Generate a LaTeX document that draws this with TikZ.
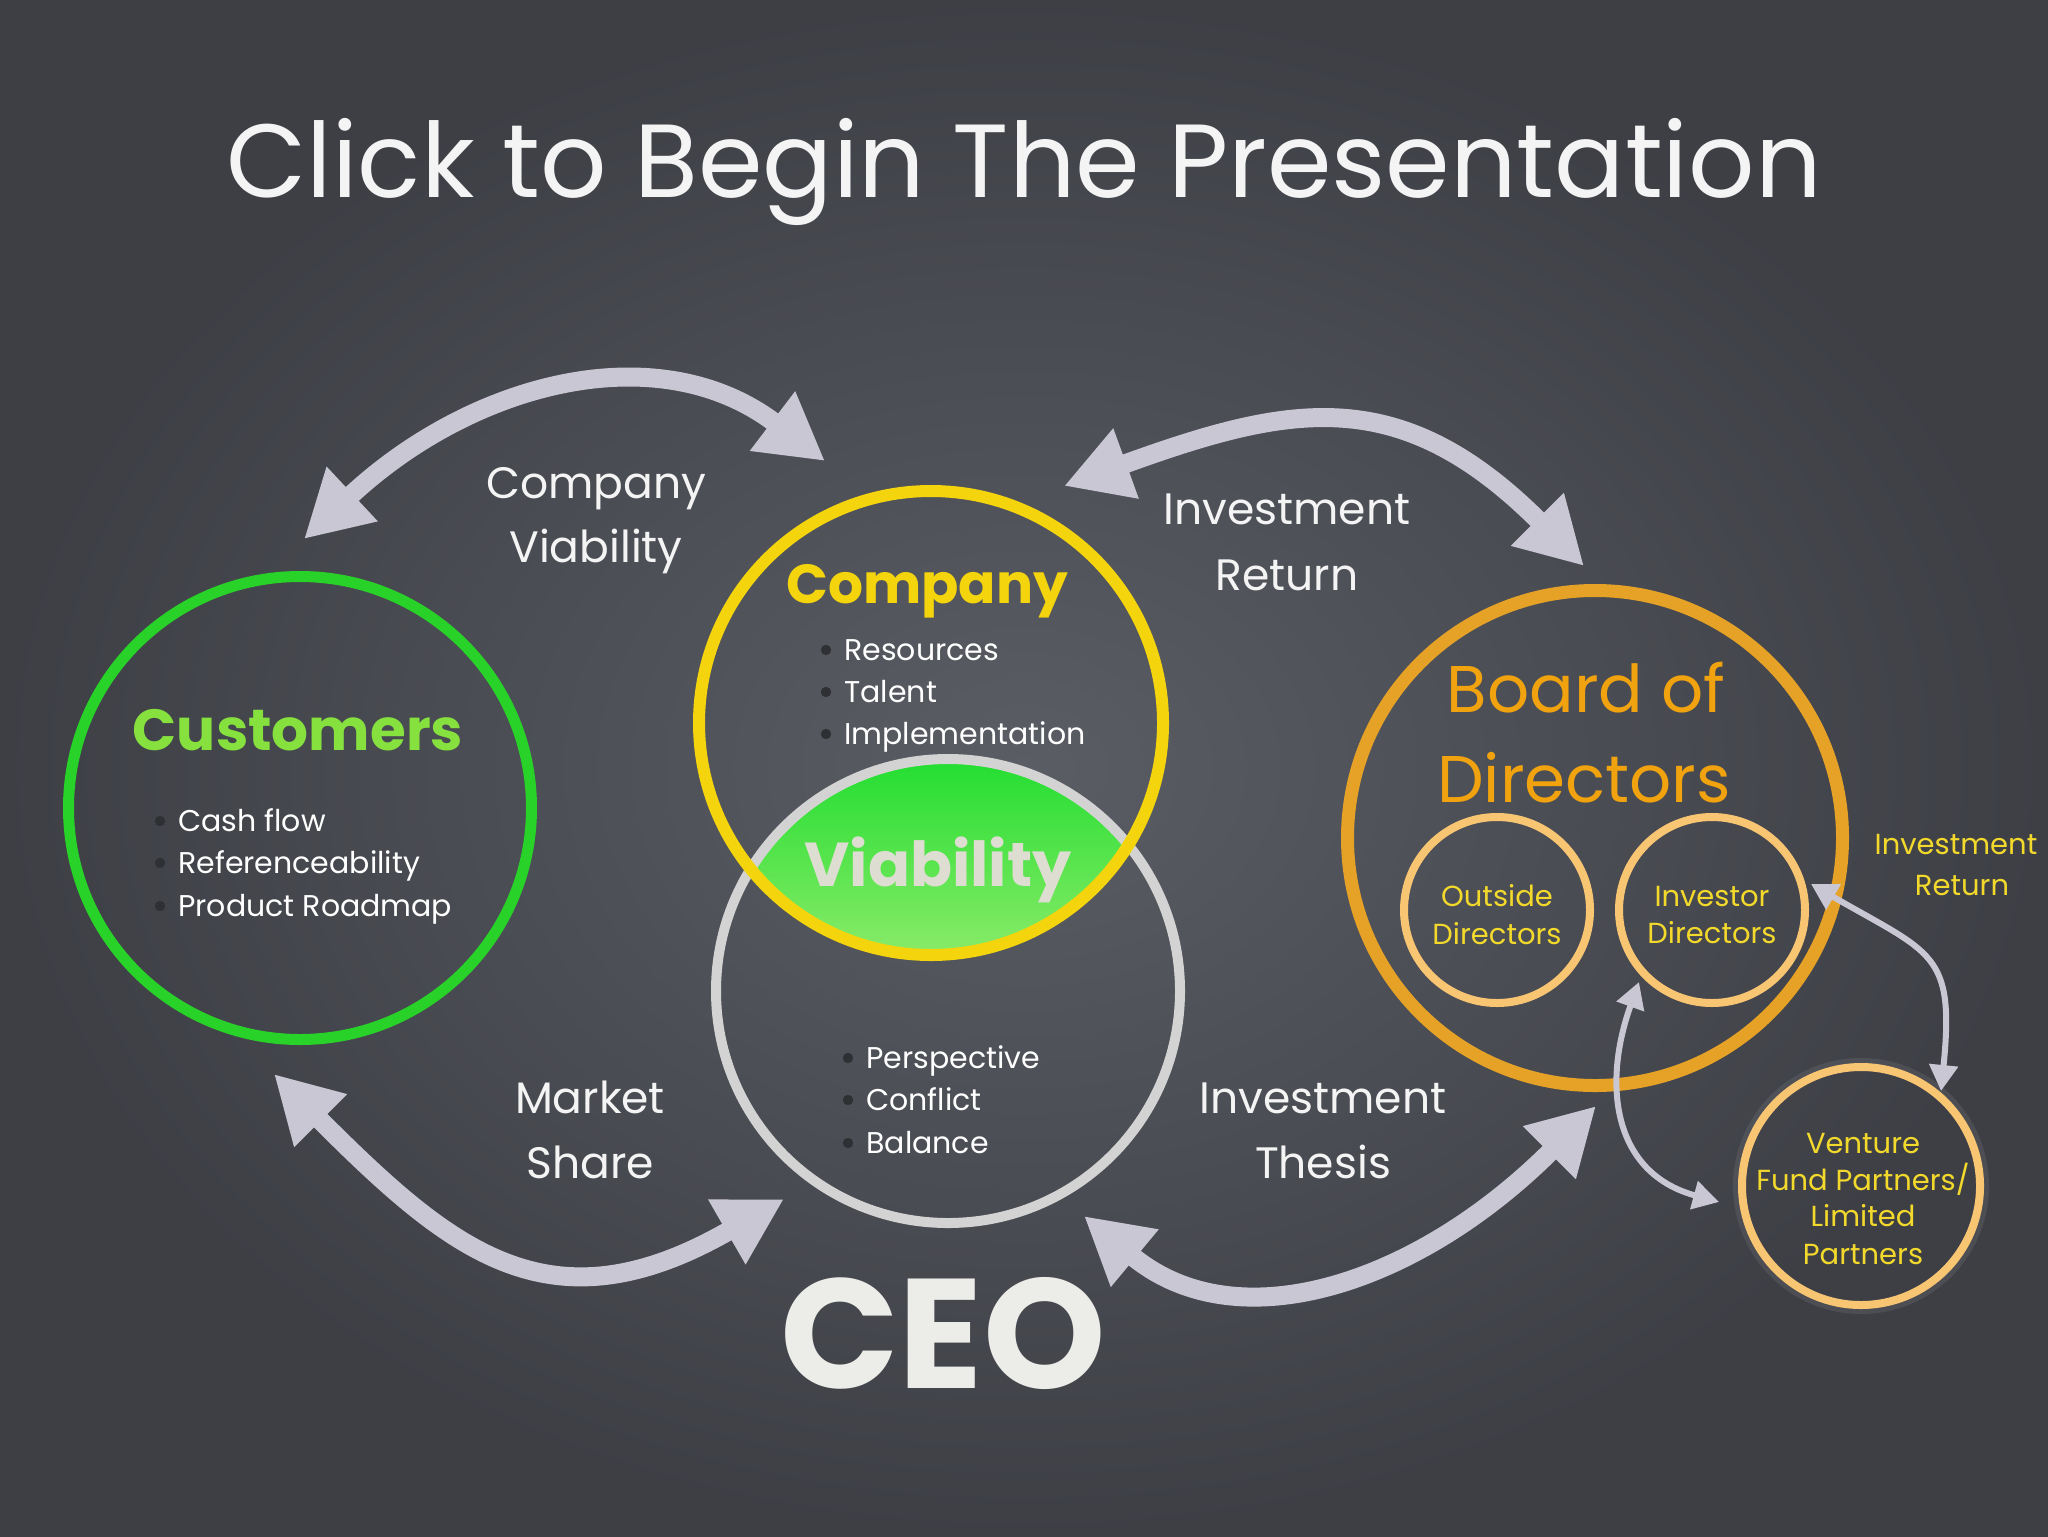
\documentclass[tikz,border=0pt]{standalone}
\usepackage{fontspec}
\setmainfont{Poppins}
\usetikzlibrary{arrows.meta}
\definecolor{bgA}{HTML}{5A5D64}
\definecolor{bgB}{HTML}{3D3F45}
\definecolor{custgreen}{HTML}{28D228}
\definecolor{custtext}{HTML}{86E13F}
\definecolor{compyellow}{HTML}{F4D40C}
\definecolor{ceogray}{HTML}{D3D3D3}
\definecolor{boardorange}{HTML}{E6A227}
\definecolor{boardtext}{HTML}{F0A20F}
\definecolor{subring}{HTML}{F8C572}
\definecolor{subtext}{HTML}{F2D92C}
\definecolor{arrowgray}{HTML}{CAC7D5}
\definecolor{lenstop}{HTML}{1EDD2E}
\definecolor{lensbot}{HTML}{8CEB6A}
\definecolor{viatext}{HTML}{DEDDD2}
\definecolor{dotgray}{HTML}{2F3034}
\definecolor{labelwhite}{HTML}{F4F4F4}
\definecolor{ceowhite}{HTML}{ECECE8}
\newcommand{\fs}[2]{\fontsize{#1pt}{#2pt}\selectfont}
\begin{document}
\begin{tikzpicture}[x=0.5pt,y=-0.5pt,
  ring/.style={circle, inner sep=0pt, outer sep=0pt},
  bigarrow/.style={draw=arrowgray, line width=9.5pt,
    {Triangle[length=33pt,width=35pt]}-{Triangle[length=33pt,width=35pt]}},
  thinarrow/.style={draw=arrowgray, line width=3pt,
    {Triangle[length=13pt,width=14pt]}-{Triangle[length=13pt,width=14pt]}},
  lbl/.style={text=labelwhite, anchor=base, inner sep=1pt, font=\fs{22}{28}},
  bl/.style={text=white, anchor=base west, inner sep=0pt, font=\fs{15}{20}},
  dot/.style={fill=dotgray},
  sub/.style={text=subtext, anchor=base, inner sep=0pt, font=\fs{14.5}{18}},
  bigtitle/.style={anchor=base, inner sep=1pt, font=\bfseries\fs{29}{36}}]
\useasboundingbox (0,0) rectangle (2048,1536);
\shade[inner color=bgA, outer color=bgB] (0,0) rectangle (2048,1536);

% centres
\coordinate (compc) at (931,723);
\coordinate (ceoc) at (948,991);

% green lens (Company and CEO overlap)
\begin{scope}
  \clip (compc) circle[radius=116pt];
  \clip (ceoc) circle[radius=116pt];
  \shade[top color=lenstop, bottom color=lensbot] (700,750) rectangle (1200,960);
\end{scope}

% circles
\node[ring, draw=custgreen, line width=5.5pt, minimum size=231.5pt] (cust) at (300,808) {};
\node[ring, draw=ceogray, line width=5pt, minimum size=232pt] (ceo) at (ceoc) {};
\node[ring, draw=compyellow, line width=6pt, minimum size=232pt] (comp) at (compc) {};
\node[ring, draw=boardorange, line width=6.5pt, minimum size=247.5pt] (board) at (1595,838) {};
\node[ring, draw=subring, line width=4pt, minimum size=93pt] (outside) at (1497,910) {};
\node[ring, draw=subring, line width=4pt, minimum size=93pt] (investor) at (1712,910) {};
\draw[white, line width=5pt, opacity=0.08] (1861,1186) circle[radius=61.5pt];
\node[ring, draw=subring, line width=4pt, minimum size=119pt] (venture) at (1861,1186) {};

% arrow end points
\coordinate (a1l) at (304,539);  \coordinate (a1r) at (825,461);
\coordinate (a2l) at (1064,486); \coordinate (a2r) at (1584,566);
\coordinate (a3l) at (274,1074); \coordinate (a3r) at (784,1199);
\coordinate (a4l) at (1084,1216);\coordinate (a4r) at (1596,1106);
\coordinate (a5t) at (1639,982); \coordinate (a5b) at (1719,1202);
\coordinate (a6t) at (1811,884); \coordinate (a6b) at (1941,1091);

\draw[bigarrow] (a1l) .. controls +(168,-157) and +(-167,-127) .. (a1r);
\draw[bigarrow] (a2l) .. controls +(226,-82) and +(-184,-184) .. (a2r);
\draw[bigarrow] (a3l) .. controls +(177,177) and +(-234,135) .. (a3r);
\draw[bigarrow] (a4l) .. controls +(154,128) and +(-177,177) .. (a4r);
\draw[thinarrow] (a5t) .. controls +(-37,103) and +(-106,-29) .. (a5b);
\draw[thinarrow] (a6t) .. controls +(121,70) and +(14,-139) .. (a6b);

% title
\node[anchor=base, text=labelwhite, font=\fs{52}{60}] (title) at (1024,197) {Click to Begin The Presentation};

% arrow labels
\node[lbl] (cv1) at (596,498) {Company};
\node[lbl] (cv2) at (596,562) {Viability};
\node[lbl] (ir1) at (1287,524) {Investment};
\node[lbl] (ir2) at (1287,590) {Return};
\node[lbl] (ms1) at (590,1113) {Market};
\node[lbl] (ms2) at (590,1178) {Share};
\node[lbl] (it1) at (1323,1113) {Investment};
\node[lbl] (it2) at (1323,1178) {Thesis};

% Customers
\node[bigtitle, text=custtext] (custT) at (298,750) {Customers};
\node[bl] (cb1) at (178,831) {Cash flow};
\node[bl] (cb2) at (178,873) {Referenceability};
\node[bl] (cb3) at (178,916) {Product Roadmap};

% Company
\node[bigtitle, text=compyellow, font=\bfseries\fs{27.5}{36}] (compT) at (927,603) {Company};
\node[bl] (pb1) at (844,660) {Resources};
\node[bl] (pb2) at (844,702) {Talent};
\node[bl] (pb3) at (844,744) {Implementation};

% Viability / CEO
\node[bigtitle, text=viatext, font=\bfseries\fs{31}{40}] (viaT) at (938,886) {Viability};
\node[bl] (eb1) at (866,1068) {Perspective};
\node[bl] (eb2) at (866,1110) {Conflict};
\node[bl] (eb3) at (866,1153) {Balance};
\node[bigtitle, text=ceowhite, font=\bfseries\fs{78}{84}] (ceoT) at (943,1388) {CEO};

% bullet dots
\foreach \n in {cb1,cb2,cb3,pb1,pb2,pb3,eb1,eb2,eb3}
  \fill[dot] (\n.base west) ++(-18,-10) circle[radius=2.6pt];

% Board
\node[anchor=base, text=boardtext, inner sep=1pt, font=\fs{33}{40}] (bod1) at (1586,712) {Board of};
\node[anchor=base, text=boardtext, inner sep=1pt, font=\fs{33}{40}] (bod2) at (1584,802) {Directors};
\node[sub] (od1) at (1497,906) {Outside};
\node[sub] (od2) at (1497,944) {Directors};
\node[sub] (id1) at (1712,906) {Investor};
\node[sub] (id2) at (1712,943) {Directors};
\node[sub] (vf1) at (1863,1153) {Venture};
\node[sub] (vf2) at (1863,1190) {Fund Partners/};
\node[sub] (vf3) at (1863,1226) {Limited};
\node[sub] (vf4) at (1863,1264) {Partners};
\node[sub] (sr1) at (1956,854) {Investment};
\node[sub] (sr2) at (1962,895) {Return};
\end{tikzpicture}
\end{document}
